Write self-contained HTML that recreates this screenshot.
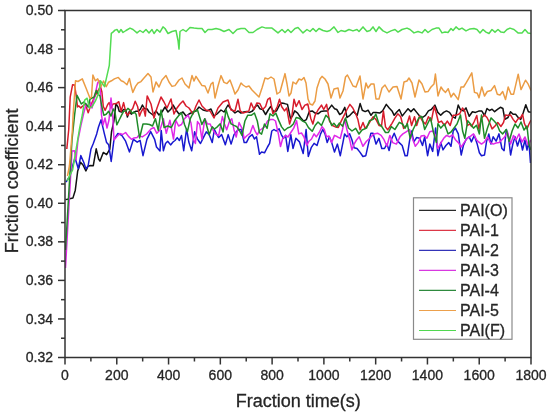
<!DOCTYPE html>
<html><head><meta charset="utf-8"><style>
html,body{margin:0;padding:0;background:#fff;}
svg{display:block;}
text{font-family:"Liberation Sans",Arial,sans-serif;fill:#262626;stroke:#262626;stroke-width:0.3px;}
svg{filter:blur(0.4px);}
</style></head><body>
<svg width="550" height="414" viewBox="0 0 550 414">
<rect width="550" height="414" fill="#fff"/>
<defs><clipPath id="pc"><rect x="65" y="10.5" width="466" height="347"/></clipPath></defs>
<g clip-path="url(#pc)">
<polyline fill="none" stroke="#111111" stroke-width="1.5" stroke-linejoin="round" points="65.5,199.6 67.4,199.3 72.9,198.1 75.3,190.2 77.7,170.9 78.4,169.0 80.5,162.2 83.0,165.0 85.9,170.9 88.0,166.2 90.5,165.5 93.3,165.7 96.2,148.8 98.6,159.0 100.0,161.1 103.3,152.4 106.6,154.6 109.8,149.1 111.5,132.0 113.9,121.0 115.9,103.6 118.0,107.0 119.2,111.3 121.5,112.0 123.6,109.4 126.0,110.3 127.4,117.1 129.4,111.3 131.3,114.2 133.7,112.3 136.1,111.3 138.5,111.3 140.5,109.0 142.4,105.0 144.3,108.4 147.2,108.9 149.0,112.0 153.0,115.0 156.0,111.0 159.0,115.0 162.0,112.0 165.0,107.0 168.0,112.0 171.0,109.0 173.0,105.0 176.0,110.0 179.0,114.0 183.0,112.0 186.0,116.0 189.0,114.0 193.0,112.0 196.0,111.0 199.0,107.0 203.0,110.0 207.0,111.0 211.0,109.0 214.0,116.0 217.0,114.0 221.0,110.0 224.0,112.0 228.0,105.0 231.0,109.0 235.0,113.0 238.0,110.9 240.9,113.1 243.8,112.0 246.7,111.6 249.6,112.4 252.5,111.0 255.5,106.5 257.6,105.1 259.8,108.7 262.7,109.5 265.6,114.5 268.5,109.5 270.7,106.5 273.6,111.6 276.5,110.9 279.5,105.1 281.6,102.9 284.5,103.6 287.5,104.4 290.4,118.2 292.5,116.0 294.7,110.9 297.6,113.1 300.5,117.5 303.5,121.1 306.4,119.6 309.3,111.6 312.2,110.9 315.1,113.1 318.0,113.8 320.8,111.6 324.0,111.0 327.4,110.9 331.7,105.1 334.6,108.7 336.8,109.5 339.7,114.5 341.9,113.1 344.8,107.3 347.0,117.5 349.9,115.3 353.5,111.6 357.2,115.3 360.1,103.6 362.3,110.2 365.2,111.6 368.1,110.2 371.0,115.3 373.2,112.4 376.1,112.4 379.7,113.1 382.6,110.9 386.3,104.4 389.2,108.0 392.0,110.9 394.2,115.3 396.8,112.0 399.3,109.5 402.2,116.0 405.1,112.4 408.0,108.7 410.9,111.6 413.8,108.7 416.7,112.4 419.6,116.0 422.5,117.5 425.5,115.3 428.4,110.9 431.3,109.5 434.9,105.1 437.8,112.4 440.7,115.3 443.6,112.4 446.5,110.9 449.5,112.4 452.4,116.7 455.3,118.2 458.2,105.1 460.4,109.5 463.3,110.9 466.0,107.9 469.2,116.2 472.4,111.7 475.5,112.4 478.7,111.1 481.9,111.1 484.5,115.5 487.0,108.5 489.5,110.5 492.1,109.2 494.6,111.7 497.8,109.2 500.4,107.3 502.9,108.5 504.8,119.4 508.0,117.5 510.5,111.7 513.1,114.3 515.6,114.3 518.2,117.5 520.7,119.4 523.3,112.4 525.8,104.7 528.4,111.7 531.0,112.4"/>
<polyline fill="none" stroke="#d81c2c" stroke-width="1.5" stroke-linejoin="round" points="66.8,149.0 68.7,130.0 70.2,97.2 72.6,84.7 74.6,85.1 76.0,94.3 77.5,106.9 78.9,105.9 80.8,107.9 82.4,106.3 85.3,104.0 88.2,112.8 90.5,106.0 93.3,99.7 96.9,92.5 100.5,86.6 101.9,92.0 103.3,106.5 105.2,110.3 107.7,104.5 109.1,102.6 111.0,108.0 113.0,104.0 116.3,103.6 118.8,101.7 121.2,111.3 123.6,102.6 126.0,113.2 127.9,115.2 130.3,111.3 132.7,108.4 135.2,101.2 137.6,106.5 139.5,116.1 141.4,111.3 143.5,108.0 145.3,116.1 147.2,95.9 151.0,104.0 154.0,118.0 157.0,108.0 161.0,97.0 164.0,102.0 167.0,108.0 171.0,99.0 174.0,114.0 177.0,108.0 180.0,104.0 183.0,101.0 186.0,106.0 189.0,108.0 193.0,114.0 196.0,106.0 199.0,100.0 202.0,106.0 206.0,110.0 210.0,111.0 214.0,118.0 218.0,108.0 223.0,102.0 228.0,100.0 231.0,110.0 235.0,111.0 238.0,99.3 240.2,110.9 243.1,113.1 246.0,112.0 248.9,110.9 251.1,102.9 254.0,109.5 256.9,102.9 259.8,103.6 262.7,109.5 265.6,106.5 267.8,99.3 270.0,97.8 272.9,113.8 275.1,110.9 277.3,106.5 279.5,99.3 281.6,106.5 284.5,110.9 286.7,108.0 289.6,124.0 291.8,116.7 294.0,99.3 296.2,106.5 299.1,100.7 302.0,109.5 304.9,105.1 307.8,104.0 310.7,118.2 312.9,124.0 315.1,115.3 318.0,110.0 321.5,105.1 323.7,109.5 326.6,104.4 329.5,121.1 332.5,125.5 335.4,126.9 338.3,127.5 341.2,121.1 344.1,115.3 347.0,109.5 349.9,104.4 352.8,108.0 355.7,113.8 357.9,119.6 360.1,129.8 363.0,122.5 365.2,128.4 368.0,125.0 370.3,121.1 373.2,116.7 376.1,119.6 379.0,125.5 381.5,126.0 383.4,110.9 385.5,126.9 387.7,129.8 390.6,125.5 392.0,123.3 394.9,118.2 397.8,113.8 400.7,116.7 403.6,128.4 406.5,125.5 409.5,116.0 411.6,125.5 414.5,116.7 416.7,125.5 419.6,116.0 422.5,121.1 425.5,124.0 428.4,116.7 431.3,121.1 434.2,106.5 436.4,113.8 438.5,122.5 441.5,121.1 444.4,125.5 447.3,121.1 450.2,125.5 453.1,115.3 456.0,115.3 459.6,113.8 462.5,108.0 464.7,110.9 467.6,125.5 469.5,124.0 471.7,126.4 474.0,122.0 476.8,115.5 478.7,128.9 481.5,118.0 484.5,114.9 487.0,117.5 489.5,122.5 492.1,128.9 495.0,126.0 497.8,122.5 501.0,126.4 503.5,122.5 505.5,114.9 508.0,115.5 510.5,114.9 513.1,119.4 515.6,122.5 518.2,118.7 520.7,117.5 522.6,114.3 524.5,123.8 527.0,129.0 529.0,124.0 531.0,120.0"/>
<polyline fill="none" stroke="#1818d0" stroke-width="1.5" stroke-linejoin="round" points="66.0,182.0 70.0,176.0 72.9,165.0 75.0,157.8 78.3,168.7 80.8,155.6 83.7,162.2 85.9,168.7 88.1,166.0 90.9,149.3 93.3,143.5 96.7,133.9 98.5,127.0 101.1,119.8 104.4,133.9 106.6,142.6 108.7,144.8 111.2,161.5 114.0,139.3 117.9,133.5 121.8,135.4 125.6,141.2 129.5,151.9 133.4,139.3 137.2,142.2 140.1,140.3 143.0,155.7 146.9,139.3 150.7,131.6 154.6,139.3 156.5,147.0 160.0,150.9 161.2,130.4 163.4,150.7 165.5,143.5 167.7,141.3 170.6,144.9 173.0,142.0 175.0,140.5 177.2,137.6 179.4,140.5 181.5,135.5 183.7,150.7 186.6,128.9 188.8,142.0 191.7,150.7 194.6,131.8 197.5,139.1 200.5,143.5 203.4,137.6 206.3,131.8 209.2,134.7 210.0,136.8 212.2,142.6 214.4,129.5 216.5,133.9 218.7,137.5 221.6,134.6 225.3,144.8 228.2,134.6 231.1,144.1 234.0,134.6 236.9,131.0 239.1,129.5 241.3,129.5 244.2,142.6 246.4,142.6 249.3,136.8 252.2,134.6 254.4,139.0 256.5,136.8 259.5,154.3 261.6,152.1 264.5,152.8 267.5,147.0 269.6,143.4 271.8,131.0 274.0,129.5 276.2,131.0 279.1,128.8 281.3,134.6 283.5,138.3 285.6,135.4 287.8,151.4 290.8,134.6 293.0,148.5 295.9,138.3 299.5,141.9 303.2,153.5 306.1,129.5 308.3,156.5 311.2,147.7 314.1,143.4 317.0,145.5 320.6,133.9 322.8,129.5 325.0,133.9 327.2,142.6 329.4,136.8 331.5,141.9 334.5,152.1 337.4,144.1 340.3,155.7 343.2,141.2 344.6,133.9 346.8,136.8 349.7,133.9 351.9,139.7 354.1,147.7 357.0,148.5 359.9,152.1 362.9,156.5 365.8,155.7 368.7,142.6 370.9,133.2 373.1,133.2 376.0,144.1 378.9,138.3 381.8,148.5 384.5,148.5 386.9,144.1 389.1,150.6 391.3,139.7 394.2,133.2 397.1,140.5 400.0,143.4 402.2,145.5 405.1,155.7 407.3,155.7 409.5,141.2 411.6,131.0 413.8,141.9 416.7,137.5 419.6,138.3 422.5,145.5 424.7,136.8 427.6,155.7 429.8,144.1 432.7,151.4 435.6,128.1 437.9,155.7 440.8,142.6 443.0,149.9 445.9,145.5 448.8,142.6 451.0,146.3 453.2,131.0 455.4,128.1 458.3,133.9 461.2,155.0 463.4,145.5 466.3,139.0 469.2,136.8 471.4,141.9 474.3,135.4 477.2,144.1 479.4,152.8 481.5,155.7 484.5,155.0 486.6,141.2 488.8,133.9 491.0,144.1 493.2,136.8 496.1,141.2 499.0,133.9 501.9,148.5 504.1,150.6 506.3,129.5 508.5,136.8 510.6,155.0 512.8,144.1 515.0,136.8 517.5,146.0 520.0,138.0 522.5,150.0 525.0,140.0 527.0,150.0 528.8,141.0 530.5,163.0"/>
<polyline fill="none" stroke="#e028e8" stroke-width="1.5" stroke-linejoin="round" points="65.5,268.0 72.0,151.0 74.5,150.8 76.0,160.0 78.0,140.0 81.0,125.0 84.0,112.0 86.2,104.0 88.0,107.0 90.0,102.0 92.0,108.0 95.8,91.4 97.7,82.7 99.2,80.8 100.6,94.3 101.5,115.0 103.0,125.0 105.0,118.0 107.0,128.0 109.0,120.0 111.0,98.0 112.5,111.7 114.0,140.0 116.5,137.0 119.8,133.5 122.7,134.5 125.6,132.5 128.5,136.4 131.4,139.3 134.0,138.0 137.2,137.4 138.6,135.5 142.3,136.9 146.6,134.0 151.0,128.9 153.9,127.5 156.8,133.3 160.0,130.0 163.4,118.7 166.3,133.3 169.9,120.2 173.5,139.1 175.7,120.2 178.6,126.0 181.5,124.5 184.5,118.7 188.1,115.1 191.0,123.1 193.2,139.1 195.4,143.5 197.5,121.6 199.7,124.5 201.9,139.1 204.8,118.7 207.5,124.0 210.0,123.9 213.0,130.0 215.8,134.1 218.7,135.5 222.4,116.6 224.5,123.9 226.7,129.7 229.6,121.0 231.8,118.8 234.0,129.7 236.2,137.0 239.1,122.5 242.0,128.3 244.2,138.5 247.1,135.5 250.0,133.4 252.9,125.4 255.1,131.2 257.3,134.8 259.5,130.5 261.6,129.0 264.5,126.8 267.5,121.0 270.4,119.5 273.3,119.5 275.5,121.0 278.4,134.1 280.5,146.5 282.7,138.5 285.6,135.5 288.0,137.0 290.5,133.0 293.7,128.1 296.6,120.8 298.8,133.9 301.5,133.0 303.9,136.8 306.8,145.5 309.0,141.2 311.5,139.0 314.1,133.9 316.3,136.8 319.2,132.5 322.1,126.6 324.3,129.5 326.5,136.8 329.0,136.0 331.5,142.6 334.5,135.4 337.4,136.8 340.3,138.3 342.5,129.5 344.6,119.4 347.0,130.0 349.7,139.7 351.9,149.9 354.1,144.1 356.5,140.0 359.2,136.8 362.9,146.3 366.5,141.2 370.0,138.0 373.8,133.9 377.5,133.2 381.1,135.4 384.0,139.7 386.9,146.3 389.8,135.4 392.7,142.6 396.4,144.1 400.0,136.8 402.9,133.9 406.5,131.7 409.5,129.5 412.4,138.3 415.3,146.3 418.2,142.6 421.1,136.1 424.0,135.4 426.9,138.3 429.8,131.7 432.7,131.0 435.6,135.4 437.9,148.5 440.8,143.0 443.7,138.3 446.6,135.4 449.5,136.8 452.5,135.0 455.4,139.7 458.3,142.6 461.2,147.0 464.1,142.6 467.5,138.0 470.6,136.1 473.5,133.9 476.5,139.7 478.6,141.9 481.5,144.1 484.5,141.9 487.5,137.0 490.3,142.6 493.2,144.1 496.0,143.0 499.0,142.6 501.9,139.7 504.8,136.8 507.5,132.0 510.6,144.1 513.5,135.4 516.0,140.0 519.0,134.0 522.0,142.0 525.0,137.0 528.0,145.0 531.0,140.0"/>
<polyline fill="none" stroke="#1e8a28" stroke-width="1.5" stroke-linejoin="round" points="65.5,250.0 70.0,172.0 72.0,140.0 74.6,115.0 77.0,95.3 78.4,98.2 81.3,104.0 83.7,102.0 86.0,104.0 88.1,106.9 90.0,99.2 92.0,98.0 93.9,97.2 96.3,90.5 98.2,94.3 100.0,96.0 101.5,105.0 103.8,115.2 106.2,114.2 108.6,111.3 111.0,116.1 113.4,108.9 115.0,112.0 116.8,124.8 119.2,120.0 121.6,115.2 123.6,111.3 125.8,111.0 127.9,108.4 130.3,110.3 132.3,113.2 134.2,112.3 136.1,114.2 137.8,126.0 139.6,138.0 141.5,130.0 143.0,124.0 146.3,123.9 149.5,124.5 152.5,126.0 155.4,118.7 158.3,130.4 161.0,110.0 164.1,127.5 167.7,126.0 171.4,127.5 174.5,121.0 178.6,115.8 181.5,112.9 184.5,124.5 187.4,131.8 190.3,118.7 193.9,111.5 197.5,110.0 201.9,124.5 204.8,118.7 209.2,134.7 212.2,126.8 214.5,129.0 217.3,126.8 220.2,123.9 223.1,131.9 226.0,109.4 228.2,116.6 231.1,123.9 234.0,125.4 236.9,126.8 239.8,131.2 242.0,135.5 244.9,121.0 247.8,115.2 251.5,115.2 254.4,113.0 257.3,121.0 259.5,132.6 261.6,134.1 264.5,123.9 267.1,128.4 270.0,113.8 273.0,116.0 275.8,113.1 278.7,120.4 281.6,126.9 284.5,130.5 287.5,128.0 290.4,126.9 293.3,124.0 296.2,117.5 299.1,118.2 302.7,121.1 305.6,122.5 308.5,127.6 312.2,131.3 315.1,125.5 318.0,122.0 321.5,125.5 325.9,115.3 328.8,118.2 331.7,125.5 333.9,123.3 336.8,126.9 339.5,123.0 342.6,126.2 345.5,118.0 348.5,128.0 352.0,131.0 355.7,128.4 359.0,134.0 362.0,130.0 366.5,128.1 369.5,120.8 373.1,119.4 375.8,114.0 378.9,123.7 381.8,126.6 385.5,132.5 388.4,132.5 391.3,126.6 394.9,129.5 399.3,122.3 402.5,124.0 405.1,128.1 407.3,123.7 410.2,138.3 413.1,129.5 416.0,123.7 418.9,117.9 421.8,116.5 424.7,129.5 427.6,123.7 430.5,117.9 433.5,132.5 436.4,142.6 437.9,123.7 440.8,128.1 444.5,124.0 448.1,133.9 451.0,132.0 453.9,128.1 457.0,124.0 460.5,115.0 462.6,131.0 464.8,138.3 467.7,120.8 470.5,124.0 473.5,128.1 476.5,125.2 479.4,133.9 481.5,115.0 484.5,138.3 487.5,128.0 491.0,117.9 493.9,120.8 496.8,124.0 499.7,131.0 502.6,133.9 506.3,129.5 509.2,141.2 512.1,131.0 515.0,124.0 518.0,128.0 521.0,122.0 524.0,130.0 527.0,126.0 529.0,145.0 531.0,150.0"/>
<polyline fill="none" stroke="#eb9c44" stroke-width="1.5" stroke-linejoin="round" points="67.5,176.0 69.4,166.0 72.4,130.0 73.1,115.0 75.5,80.8 78.0,81.5 82.3,78.9 86.2,88.5 90.0,98.2 91.5,97.0 92.9,75.0 95.3,80.8 97.7,78.9 100.9,86.6 103.5,81.0 106.2,86.6 108.6,82.2 111.5,80.8 114.4,78.9 118.3,77.4 121.2,80.8 123.6,81.8 127.0,84.7 129.4,78.4 131.3,86.6 132.8,92.4 135.7,86.1 138.0,83.0 141.0,81.6 144.0,78.0 148.0,73.6 151.0,77.0 153.0,92.0 156.0,82.0 159.0,87.0 162.0,80.0 166.0,75.6 169.0,82.0 172.0,86.4 175.0,85.6 179.0,80.0 182.0,78.0 185.0,84.0 189.0,88.0 192.0,75.6 194.0,81.0 196.0,76.4 199.0,81.0 202.0,85.6 205.0,86.0 208.0,93.0 211.0,84.0 213.0,82.4 215.0,98.0 218.0,86.0 221.0,75.6 224.0,82.4 227.0,83.6 230.0,80.0 233.0,88.0 235.0,94.0 238.0,90.0 241.0,83.0 243.0,85.0 246.0,87.0 249.0,86.0 252.0,90.0 256.0,94.0 259.0,97.0 262.0,88.0 265.0,78.0 268.0,79.0 271.0,77.0 274.0,79.0 277.0,94.0 280.0,92.0 283.0,81.0 285.0,73.6 287.0,84.0 289.0,96.0 291.0,93.0 293.0,82.0 296.0,84.0 299.0,79.0 301.5,80.0 304.0,77.6 306.0,83.0 308.0,99.0 310.0,104.0 312.5,105.0 315.0,101.0 317.0,88.0 320.0,79.0 322.0,76.4 325.0,79.0 328.0,84.0 331.0,98.0 334.0,89.0 338.0,88.0 340.0,98.0 343.0,91.0 345.5,77.0 347.4,75.0 350.0,80.0 353.0,86.0 356.0,87.0 360.0,76.0 363.0,99.0 366.0,83.0 368.0,88.0 371.0,84.0 374.0,84.0 376.0,99.0 379.0,99.0 382.0,88.0 385.0,85.0 389.0,92.0 393.0,87.0 397.0,86.4 401.0,99.0 404.0,82.0 407.0,81.0 409.0,78.0 412.0,83.0 415.0,97.0 419.0,80.0 422.0,84.0 425.0,92.0 428.0,91.6 431.0,87.0 434.0,84.0 435.4,74.0 438.0,96.0 441.0,87.0 443.0,90.0 445.5,92.4 448.2,88.7 451.0,97.0 453.6,93.3 458.2,99.6 461.0,87.0 463.6,87.0 466.4,82.4 469.0,77.8 471.8,72.9 474.5,92.4 477.3,93.3 479.0,97.8 481.8,87.0 484.5,96.0 487.3,91.5 491.0,90.5 494.5,85.6 497.3,94.2 500.0,95.0 502.7,91.5 505.5,99.6 508.2,87.0 511.0,94.2 513.6,94.2 518.2,74.2 521.0,89.6 525.5,80.2 528.2,84.2 531.0,90.5"/>
<polyline fill="none" stroke="#52dc52" stroke-width="1.5" stroke-linejoin="round" points="67.0,181.0 69.5,176.0 72.6,170.0 74.5,159.0 79.3,130.0 82.3,115.0 84.7,100.1 87.1,98.2 89.5,107.9 92.0,106.9 95.3,101.1 98.7,93.4 100.6,80.8 104.5,86.6 109.3,65.3 111.3,33.4 113.2,31.9 115.0,30.1 117.0,29.5 119.0,32.5 121.0,29.5 123.0,32.5 126.0,30.5 130.0,28.1 133.0,29.5 137.0,32.9 140.0,30.5 143.0,32.5 146.0,29.5 149.0,32.9 152.0,29.5 154.0,33.5 157.0,29.5 160.0,32.1 163.0,26.9 165.0,28.5 168.0,33.5 172.0,31.5 176.0,30.5 178.0,40.5 179.0,49.1 180.0,31.5 183.0,29.5 186.0,31.5 190.0,27.5 194.0,28.1 198.0,28.5 202.0,28.5 205.0,32.5 208.0,29.5 212.0,29.5 216.0,28.5 220.0,29.5 224.0,31.5 229.0,29.5 233.0,33.5 237.0,29.5 241.0,28.5 245.0,28.5 249.0,32.5 253.0,32.5 257.0,29.5 262.0,26.9 266.0,28.1 272.0,28.1 278.0,32.9 282.0,29.5 285.0,32.5 288.0,29.5 291.0,32.5 295.0,28.5 298.0,27.5 303.0,32.9 307.0,29.5 310.0,31.5 313.0,28.5 316.0,31.5 319.0,28.5 323.0,30.5 327.0,31.5 330.0,30.5 334.0,26.9 338.0,32.5 341.0,30.5 345.0,31.5 349.0,29.5 353.0,30.9 357.0,29.5 359.0,31.5 363.0,26.9 367.0,31.5 370.0,30.5 373.0,26.9 376.0,31.5 379.0,26.9 383.0,30.9 387.0,32.9 391.0,30.9 395.0,29.5 398.0,32.1 402.0,29.5 407.0,28.1 410.0,29.5 414.0,32.9 418.0,31.5 422.0,32.9 425.0,29.5 428.0,32.5 432.0,29.5 436.0,28.1 439.0,28.1 442.0,32.9 445.0,32.0 448.0,32.5 451.0,28.5 453.0,30.5 456.0,26.9 459.0,29.5 462.0,28.1 466.0,30.9 470.0,28.9 474.0,28.5 477.0,29.5 480.0,32.9 483.0,29.5 486.0,32.1 489.0,33.5 492.0,29.5 495.0,32.1 498.0,29.5 501.0,32.1 504.0,32.5 507.0,29.5 510.0,28.1 514.0,29.5 518.0,32.9 522.0,32.9 525.0,29.5 528.0,32.9 531.0,33.5"/>
</g>
<rect x="413.5" y="197.8" width="98.5" height="141.5" fill="#fff" stroke="#8a8a8a" stroke-width="1.2"/>
<line x1="419" y1="210.3" x2="456" y2="210.3" stroke="#2a2a2a" stroke-width="1.2"/><text x="460" y="215.8" font-size="16">PAI(O)</text><line x1="419" y1="230.3" x2="456" y2="230.3" stroke="#dc3848" stroke-width="1.2"/><text x="460" y="235.8" font-size="16">PAI-1</text><line x1="419" y1="250.4" x2="456" y2="250.4" stroke="#3434b8" stroke-width="1.2"/><text x="460" y="255.9" font-size="16">PAI-2</text><line x1="419" y1="270.4" x2="456" y2="270.4" stroke="#d838e0" stroke-width="1.2"/><text x="460" y="275.9" font-size="16">PAI-3</text><line x1="419" y1="290.4" x2="456" y2="290.4" stroke="#2e8a3e" stroke-width="1.2"/><text x="460" y="295.9" font-size="16">PAI-4</text><line x1="419" y1="310.5" x2="456" y2="310.5" stroke="#eca04c" stroke-width="1.2"/><text x="460" y="316.0" font-size="16">PAI-5</text><line x1="419" y1="330.5" x2="456" y2="330.5" stroke="#50d850" stroke-width="1.2"/><text x="460" y="336.0" font-size="16">PAI(F)</text>
<g stroke="#333" stroke-width="1.5" fill="none">
<rect x="65" y="10.5" width="466" height="347"/>
<line x1="58" y1="357.50" x2="65" y2="357.50"/><line x1="61" y1="338.22" x2="65" y2="338.22"/><line x1="58" y1="318.94" x2="65" y2="318.94"/><line x1="61" y1="299.67" x2="65" y2="299.67"/><line x1="58" y1="280.39" x2="65" y2="280.39"/><line x1="61" y1="261.11" x2="65" y2="261.11"/><line x1="58" y1="241.83" x2="65" y2="241.83"/><line x1="61" y1="222.56" x2="65" y2="222.56"/><line x1="58" y1="203.28" x2="65" y2="203.28"/><line x1="61" y1="184.00" x2="65" y2="184.00"/><line x1="58" y1="164.72" x2="65" y2="164.72"/><line x1="61" y1="145.44" x2="65" y2="145.44"/><line x1="58" y1="126.17" x2="65" y2="126.17"/><line x1="61" y1="106.89" x2="65" y2="106.89"/><line x1="58" y1="87.61" x2="65" y2="87.61"/><line x1="61" y1="68.33" x2="65" y2="68.33"/><line x1="58" y1="49.06" x2="65" y2="49.06"/><line x1="61" y1="29.78" x2="65" y2="29.78"/><line x1="58" y1="10.50" x2="65" y2="10.50"/><line x1="65.00" y1="357.5" x2="65.00" y2="364.5"/><line x1="90.89" y1="357.5" x2="90.89" y2="361.5"/><line x1="116.78" y1="357.5" x2="116.78" y2="364.5"/><line x1="142.67" y1="357.5" x2="142.67" y2="361.5"/><line x1="168.56" y1="357.5" x2="168.56" y2="364.5"/><line x1="194.44" y1="357.5" x2="194.44" y2="361.5"/><line x1="220.33" y1="357.5" x2="220.33" y2="364.5"/><line x1="246.22" y1="357.5" x2="246.22" y2="361.5"/><line x1="272.11" y1="357.5" x2="272.11" y2="364.5"/><line x1="298.00" y1="357.5" x2="298.00" y2="361.5"/><line x1="323.89" y1="357.5" x2="323.89" y2="364.5"/><line x1="349.78" y1="357.5" x2="349.78" y2="361.5"/><line x1="375.67" y1="357.5" x2="375.67" y2="364.5"/><line x1="401.56" y1="357.5" x2="401.56" y2="361.5"/><line x1="427.44" y1="357.5" x2="427.44" y2="364.5"/><line x1="453.33" y1="357.5" x2="453.33" y2="361.5"/><line x1="479.22" y1="357.5" x2="479.22" y2="364.5"/><line x1="505.11" y1="357.5" x2="505.11" y2="361.5"/><line x1="531.00" y1="357.5" x2="531.00" y2="364.5"/>
</g>
<g font-size="14">
<text x="53" y="362.1" text-anchor="end">0.32</text><text x="53" y="323.5" text-anchor="end">0.34</text><text x="53" y="285.0" text-anchor="end">0.36</text><text x="53" y="246.4" text-anchor="end">0.38</text><text x="53" y="207.9" text-anchor="end">0.40</text><text x="53" y="169.3" text-anchor="end">0.42</text><text x="53" y="130.8" text-anchor="end">0.44</text><text x="53" y="92.2" text-anchor="end">0.46</text><text x="53" y="53.7" text-anchor="end">0.48</text><text x="53" y="15.1" text-anchor="end">0.50</text>
<text x="65.0" y="380.3" text-anchor="middle">0</text><text x="116.8" y="380.3" text-anchor="middle">200</text><text x="168.6" y="380.3" text-anchor="middle">400</text><text x="220.3" y="380.3" text-anchor="middle">600</text><text x="272.1" y="380.3" text-anchor="middle">800</text><text x="323.9" y="380.3" text-anchor="middle">1000</text><text x="375.7" y="380.3" text-anchor="middle">1200</text><text x="427.4" y="380.3" text-anchor="middle">1400</text><text x="479.2" y="380.3" text-anchor="middle">1600</text><text x="531.0" y="380.3" text-anchor="middle">1800</text>
</g>
<g font-size="14"></g>
<text x="298.2" y="407.4" font-size="18" text-anchor="middle">Fraction time(s)</text>
<text transform="translate(17.6,180.8) rotate(-90)" font-size="18" text-anchor="middle">Friction coefficient</text>
</svg>
</body></html>
